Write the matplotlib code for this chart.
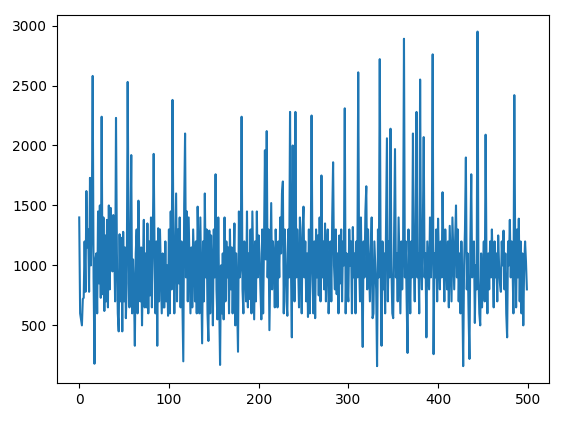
import matplotlib
matplotlib.use("Agg")
import matplotlib.pyplot as plt

# values, in blocks of ten
values = [
    1400, 600, 550, 500, 720, 730, 1200, 780, 1620, 1150,
    1300, 780, 1730, 1000, 1350, 2580, 900, 180, 1050, 1100,
    600, 1450, 850, 1500, 730, 2240, 760, 1400, 620, 1250,
    700, 1380, 650, 1500, 800, 1480, 1280, 950, 1420, 1150,
    700, 2230, 1100, 600, 450, 1260, 700, 1230, 450, 1280,
    700, 1150, 560, 850, 2530, 1250, 650, 1150, 1920, 600,
    1050, 800, 330, 1100, 1300, 600, 1540, 1050, 700, 1150,
    500, 1000, 1380, 650, 1100, 650, 1350, 600, 1200, 750,
    1400, 650, 1200, 1930, 1100, 600, 1200, 330, 1310, 700,
    1300, 950, 600, 1100, 650, 650, 1200, 700, 1000, 580,
    1300, 600, 1450, 800, 2380, 1200, 600, 1100, 1600, 700,
    1300, 850, 1400, 650, 1200, 700, 200, 1500, 2100, 900,
    1450, 700, 1400, 1000, 600, 1150, 650, 1300, 1000, 700,
    1200, 600, 1490, 1100, 600, 1400, 900, 350, 1200, 700,
    1600, 900, 1300, 600, 370, 1290, 600, 1250, 1000, 500,
    1300, 900, 1760, 800, 550, 1400, 700, 170, 1000, 600,
    1100, 550, 1400, 700, 1200, 900, 1150, 600, 1300, 800,
    1150, 600, 1000, 1350, 500, 1100, 700, 280, 1450, 900,
    1000, 2240, 800, 600, 1200, 1000, 700, 1450, 650, 1100,
    720, 1300, 600, 1450, 1000, 550, 1200, 700, 1450, 900,
    1250, 1100, 800, 550, 1300, 600, 1200, 1960, 1050, 2120,
    900, 1300, 460, 1000, 1520, 800, 1200, 1080, 650, 1300,
    1000, 650, 1200, 900, 1400, 1100, 1600, 1700, 600, 1300,
    1100, 700, 580, 1300, 900, 2280, 1000, 400, 2000, 1200,
    700, 2280, 900, 1300, 1000, 650, 1400, 1100, 600, 1300,
    1490, 900, 1200, 700, 1100, 570, 1300, 600, 1000, 2250,
    1000, 600, 1200, 560, 1300, 900, 1250, 750, 1400, 700,
    1750, 900, 1200, 800, 1350, 700, 1100, 1300, 600, 850,
    1200, 700, 1400, 1860, 1000, 800, 1300, 760, 1100, 600,
    1250, 850, 1300, 700, 1200, 1000, 2310, 600, 1100, 800,
    700, 1300, 1000, 1200, 600, 1320, 900, 1100, 600, 1200,
    900, 2610, 1000, 700, 1400, 800, 320, 1200, 900, 1450,
    1660, 800, 1300, 1000, 700, 1100, 1400, 560, 600, 1200,
    1000, 800, 160, 1300, 900, 2720, 1000, 330, 1200, 800,
    1100, 600, 1300, 2060, 700, 1200, 900, 2140, 1000, 600,
    560, 1300, 1970, 900, 1100, 700, 1400, 1000, 600, 1200,
    800, 1100, 2890, 900, 1200, 700, 270, 1300, 1000, 600,
    1200, 900, 2100, 1000, 700, 1300, 2280, 900, 1100, 600,
    2550, 1000, 800, 1300, 2070, 900, 1100, 400, 1200, 1000,
    800, 1400, 900, 1200, 2760, 260, 1100, 900, 1300, 700,
    1390, 1000, 800, 1200, 900, 1610, 1100, 700, 1300, 1000,
    800, 1200, 650, 1330, 1000, 700, 1400, 1100, 800, 1200,
    1500, 900, 1300, 700, 1100, 600, 1200, 800, 160, 1000,
    1300, 1900, 800, 1100, 600, 220, 1200, 1760, 900, 1000,
    1200, 520, 1000, 800, 2950, 900, 600, 500, 1100, 650,
    900, 1200, 700, 2090, 1000, 600, 1100, 800, 1200, 900,
    1300, 1000, 650, 1200, 900, 1100, 700, 1250, 1000, 850,
    780, 1200, 1000, 1290, 800, 1100, 600, 400, 1200, 1000,
    1380, 900, 1200, 1000, 600, 2420, 1100, 650, 1300, 900,
    1390, 700, 1200, 600, 1100, 500, 1000, 1200, 1030, 800,
]

fig = plt.figure(figsize=(5.8, 4.24), dpi=100)
ax = fig.add_axes([0.098, 0.097, 0.849, 0.868])
ax.plot(values)

fig.savefig("out.png", dpi=100)
